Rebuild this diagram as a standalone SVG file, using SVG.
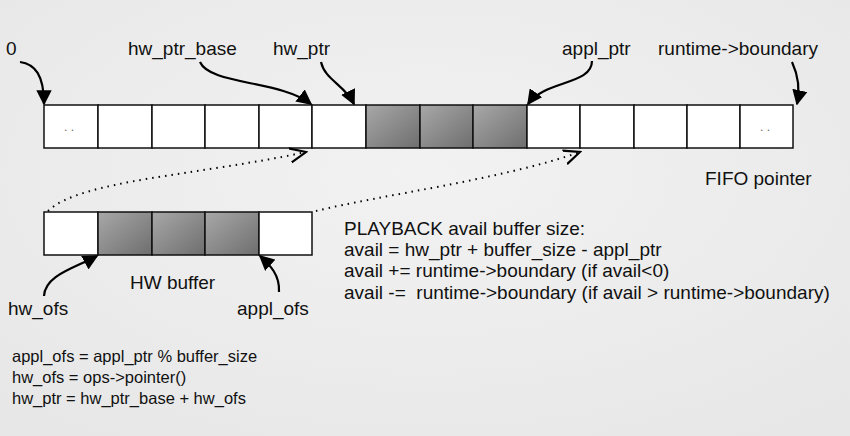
<svg xmlns="http://www.w3.org/2000/svg" width="850" height="436" viewBox="0 0 850 436">
<defs>
<linearGradient id="g" x1="0" y1="0" x2="1" y2="1"><stop offset="0" stop-color="#a8a8a8"/><stop offset="1" stop-color="#6e6e6e"/></linearGradient>
<radialGradient id="bg" cx="0.5" cy="0.4" r="0.8"><stop offset="0" stop-color="#f2f2f2"/><stop offset="1" stop-color="#e6e6e6"/></radialGradient>
<marker id="a" viewBox="0 0 10 10" refX="9" refY="5" markerWidth="7" markerHeight="7" orient="auto"><path d="M0,0 L10,5 L0,10 z" fill="#000"/></marker>
<marker id="o" viewBox="0 0 10 10" refX="9" refY="5" markerWidth="9" markerHeight="9" orient="auto"><path d="M0,1 L9,5 L0,9" fill="none" stroke="#000" stroke-width="1.2"/></marker>
</defs>
<style>
text{font-family:"Liberation Sans",Arial,sans-serif;font-size:19px;fill:#111}
.b{font-size:16.5px}
.c{fill:#fff;stroke:#111;stroke-width:1.5}
.s{fill:url(#g);stroke:#111;stroke-width:1.5}
.ar{fill:none;stroke:#000;stroke-width:2.2;marker-end:url(#a)}
.d{fill:none;stroke:#000;stroke-width:2;stroke-dasharray:1.5 5;marker-end:url(#o)}
.dots{font-size:12px;fill:#666}
</style>
<rect width="850" height="436" fill="url(#bg)"/>
<g id="fifo">
<rect class="c" x="44" y="105" width="54" height="43"/>
<rect class="c" x="98" y="105" width="54" height="43"/>
<rect class="c" x="152" y="105" width="53" height="43"/>
<rect class="c" x="205" y="105" width="54" height="43"/>
<rect class="c" x="259" y="105" width="53" height="43"/>
<rect class="c" x="312" y="105" width="54" height="43"/>
<rect class="s" x="366" y="105" width="54" height="43"/>
<rect class="s" x="420" y="105" width="53" height="43"/>
<rect class="s" x="473" y="105" width="54" height="43"/>
<rect class="c" x="527" y="105" width="53" height="43"/>
<rect class="c" x="580" y="105" width="54" height="43"/>
<rect class="c" x="634" y="105" width="53" height="43"/>
<rect class="c" x="687" y="105" width="53" height="43"/>
<rect class="c" x="740" y="105" width="53" height="43"/>
<text class="dots" x="64" y="131">. .</text>
<text class="dots" x="760" y="131">. .</text>
<text x="705" y="185">FIFO pointer</text>
</g>
<g id="hwbuf">
<rect class="c" x="44" y="212" width="54" height="43"/>
<rect class="s" x="98" y="212" width="54" height="43"/>
<rect class="s" x="152" y="212" width="53" height="43"/>
<rect class="s" x="205" y="212" width="54" height="43"/>
<rect class="c" x="259" y="212" width="53" height="43"/>
<text x="130" y="289">HW buffer</text>
</g>
<g id="labels">
<text x="6" y="55">0</text>
<text x="128" y="55">hw_ptr_base</text>
<text x="273" y="55">hw_ptr</text>
<text x="562" y="55">appl_ptr</text>
<text x="658" y="55">runtime-&gt;boundary</text>
<text x="8" y="315">hw_ofs</text>
<text x="237" y="315">appl_ofs</text>
<text x="344" y="235">PLAYBACK avail buffer size:</text>
<text x="344" y="256">avail = hw_ptr + buffer_size - appl_ptr</text>
<text x="344" y="277">avail += runtime-&gt;boundary (if avail&lt;0)</text>
<text x="344" y="299" xml:space="preserve">avail -=  runtime-&gt;boundary (if avail &gt; runtime-&gt;boundary)</text>
<text class="b" x="12" y="362">appl_ofs = appl_ptr % buffer_size</text>
<text class="b" x="12" y="383">hw_ofs = ops-&gt;pointer()</text>
<text class="b" x="12" y="404">hw_ptr = hw_ptr_base + hw_ofs</text>
</g>
<g id="connectors">
<path class="ar" d="M20,62 C35,64 44,75 44,104"/>
<path class="ar" d="M200,62 C210,85 280,80 311,104"/>
<path class="ar" d="M321,62 C325,80 345,85 354,104"/>
<path class="ar" d="M592,61 C592,85 545,80 528,104"/>
<path class="ar" d="M792,62 C798,75 800,90 797,104"/>
<path class="ar" d="M44,296 C45,275 75,268 97,256"/>
<path class="ar" d="M279,292 C280,275 270,265 260,256"/>
<path class="d" d="M48,211 C80,180 200,175 306,152"/>
<path class="d" d="M316,211 C380,195 500,180 580,152"/>
</g>
</svg>
